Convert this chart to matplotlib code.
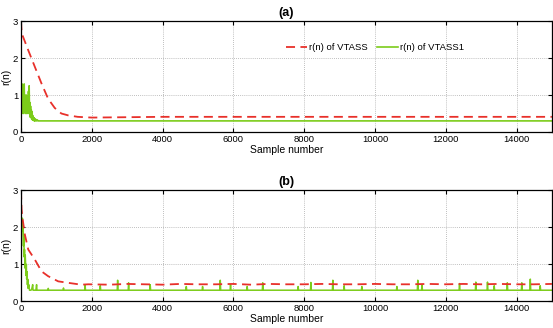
import numpy as np
import matplotlib
matplotlib.use("Agg")
import matplotlib.pyplot as plt

plt.rcParams['font.family'] = ['Liberation Sans', 'DejaVu Sans']

# ---------------- data ----------------
# (a) VTASS (red dashed)
a_red_x = [0, 15, 40, 205, 392, 580, 766, 953, 1140, 1330, 1600, 2000, 3000, 4000, 6000, 8000, 10000, 12000, 14000, 15000]
a_red_y = [3.0, 2.75, 2.62, 2.21, 1.76, 1.31, 0.90, 0.65, 0.50, 0.45, 0.41, 0.39, 0.40, 0.41, 0.41, 0.41, 0.41, 0.41, 0.41, 0.41]
# (a) VTASS1 (green): dense oscillating transient, then flat
a_grn_x = [0, 10, 20, 30, 40, 50, 60, 70, 80, 90, 100, 110, 120, 130, 140, 150, 160, 170, 180, 190,
           200, 210, 220, 230, 240, 250, 260, 270, 280, 290, 300, 310, 320, 330, 340, 350, 360, 370, 380, 390,
           400, 420, 440, 460, 480, 500, 15000]
a_grn_y = [0.35, 1.2, 0.6, 1.3, 0.7, 1.25, 0.5, 1.1, 0.8, 1.3, 0.6, 1.0, 0.5, 0.9, 0.7, 1.0, 0.5, 0.9, 0.6, 0.8,
           0.5, 1.1, 0.6, 1.25, 0.5, 0.8, 0.4, 0.7, 0.4, 0.6, 0.35, 0.55, 0.33, 0.45, 0.32, 0.4, 0.31, 0.38, 0.30, 0.36,
           0.30, 0.34, 0.30, 0.33, 0.30, 0.30, 0.30]

# (b) VTASS (red dashed)
b_red_x = [0, 15, 40, 110, 205, 390, 580, 766, 1050, 1330, 1700, 1900, 2500, 3000, 3500, 4000, 4500, 5000, 5500, 6000, 6500,
           7000, 7500, 8000, 8500, 9000, 9500, 10000, 10500, 11000, 11500, 12000, 12500, 13000, 13500, 14000, 14500, 15000]
b_red_y = [3.0, 2.5, 2.26, 1.8, 1.4, 1.13, 0.81, 0.68, 0.54, 0.50, 0.45, 0.46, 0.45, 0.47, 0.46, 0.45, 0.47, 0.46, 0.46, 0.47, 0.45,
           0.47, 0.46, 0.46, 0.47, 0.46, 0.46, 0.47, 0.46, 0.46, 0.47, 0.46, 0.47, 0.46, 0.47, 0.46, 0.46, 0.47]
# (b) VTASS1 (green): early transient + sparse spikes on a 0.3 baseline
b_grn_early_x = [0, 10, 20, 30, 40, 50, 60, 70, 80, 90, 100, 110, 120, 130, 140, 150, 160, 170, 180, 190,
                 200, 220, 240, 280, 300, 330, 340, 420, 440, 450, 500]
b_grn_early_y = [0.4, 1.6, 2.0, 2.2, 2.25, 1.9, 2.1, 1.5, 1.8, 1.2, 1.4, 0.9, 1.25, 1.0, 0.7, 1.0, 0.6, 0.8, 0.45, 0.6,
                 0.35, 0.45, 0.30, 0.30, 0.32, 0.45, 0.30, 0.30, 0.45, 0.30, 0.30]
b_grn_base = 0.3
b_spike_x = [770, 1200, 1810, 2240, 2730, 3040, 3650, 4670, 5130, 5630, 5920, 6390, 6830, 7830, 8190, 8810,
             9130, 9630, 10620, 11210, 11330, 12390, 12850, 13180, 13370, 13740, 14150, 14390, 14670]
b_spike_h = [0.35, 0.36, 0.45, 0.42, 0.57, 0.50, 0.45, 0.40, 0.40, 0.57, 0.45, 0.40, 0.50, 0.40, 0.51, 0.57,
             0.42, 0.40, 0.40, 0.57, 0.45, 0.48, 0.52, 0.52, 0.42, 0.50, 0.50, 0.60, 0.42]

x_ticks = [0, 2000, 4000, 6000, 8000, 10000, 12000, 14000]
y_ticks = [0, 1, 2, 3]

RED = '#e8302a'
GREEN = '#7ccc1a'

# build green (b) series from early transient and spike lists
gx = list(b_grn_early_x)
gy = list(b_grn_early_y)
for sx, sh in zip(b_spike_x, b_spike_h):
    gx += [sx - 12, sx, sx + 12]
    gy += [b_grn_base, sh, b_grn_base]
gx.append(15000)
gy.append(b_grn_base)

fig = plt.figure(figsize=(5.53, 3.28), dpi=100)
ax1 = fig.add_axes([0.038, 0.5976, 0.960, 0.338])
ax2 = fig.add_axes([0.038, 0.0814, 0.960, 0.338])


def style(ax, title):
    ax.set_xlim(0, 15000)
    ax.set_ylim(0, 3)
    ax.set_xticks(x_ticks)
    ax.set_yticks(y_ticks)
    ax.tick_params(direction='in', length=3, width=0.8, top=True, right=True, labelsize=6.8, pad=2)
    ax.grid(True, linestyle=(0, (1, 1.5)), color='#aaaaaa', linewidth=0.6)
    ax.set_axisbelow(True)
    for s in ax.spines.values():
        s.set_linewidth(0.9)
    ax.set_xlabel('Sample number', fontsize=7.5, labelpad=1)
    ax.set_ylabel('r(n)', fontsize=7.5, labelpad=1)
    ax.set_title(title, fontsize=9, fontweight='bold', pad=4)


l2, = ax1.plot(a_grn_x, a_grn_y, color=GREEN, lw=1.2, label='r(n) of VTASS1')
l1, = ax1.plot(a_red_x, a_red_y, color=RED, lw=1.3, dashes=(5, 3), label='r(n) of VTASS')
style(ax1, '(a)')
ax1.legend(handles=[l1, l2], loc='center left', bbox_to_anchor=(0.49, 0.76), ncol=2, frameon=False,
           fontsize=6.8, handlelength=2.2, handletextpad=0.3, columnspacing=0.9, borderpad=0)

ax2.plot(gx, gy, color=GREEN, lw=1.1)
ax2.plot(b_red_x, b_red_y, color=RED, lw=1.3, dashes=(5, 3))
style(ax2, '(b)')

fig.savefig('out.png', dpi=100)
